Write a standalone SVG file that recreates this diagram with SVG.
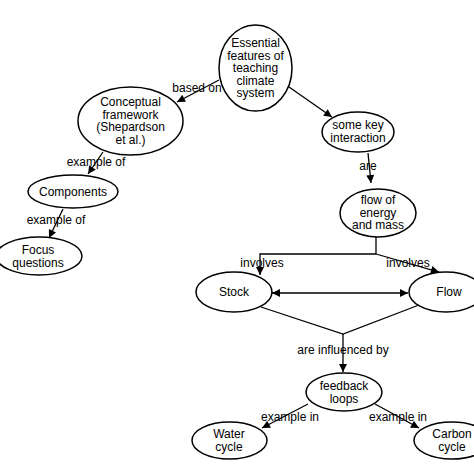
<svg xmlns="http://www.w3.org/2000/svg" width="474" height="474" viewBox="0 0 474 474">
<style>
.n ellipse{fill:#fff;stroke:#000;stroke-width:1.5}
text{font-family:"Liberation Sans",Arial,sans-serif;font-size:12px;fill:#000;text-anchor:middle}
.c line,.c polyline{stroke:#000;stroke-width:1.3;fill:none}
</style>
<defs>
<marker id="ah" viewBox="0 0 10 10" refX="10" refY="5" markerUnits="userSpaceOnUse" markerWidth="9" markerHeight="8" orient="auto-start-reverse">
<path d="M0,0 L10,5 L0,10 z" fill="#000"/>
</marker>
</defs>
<rect width="474" height="474" fill="#fff"/>
<g class="c" id="connectors">
<line x1="289" y1="87" x2="332" y2="117" marker-end="url(#ah)"/>
<line x1="219" y1="80" x2="177" y2="102" marker-end="url(#ah)"/>
<line x1="103" y1="152" x2="88" y2="174" marker-end="url(#ah)"/>
<line x1="63" y1="209" x2="49" y2="238" marker-end="url(#ah)"/>
<line x1="368" y1="153" x2="371" y2="183" marker-end="url(#ah)"/>
<line x1="376" y1="237" x2="376" y2="254"/>
<polyline points="376,254 260,254 260,275" marker-end="url(#ah)"/>
<line x1="376" y1="254" x2="439" y2="272" marker-end="url(#ah)"/>
<line x1="272" y1="293" x2="408" y2="293" marker-start="url(#ah)" marker-end="url(#ah)"/>
<polyline points="261,307 343,334 419,305"/>
<line x1="343" y1="334" x2="343" y2="372" marker-end="url(#ah)"/>
<line x1="308" y1="404" x2="262" y2="428" marker-end="url(#ah)"/>
<line x1="375" y1="404" x2="419" y2="428" marker-end="url(#ah)"/>
</g>
<g id="labels">
<text x="197" y="92">based on</text>
<text x="96" y="166">example of</text>
<text x="56" y="224">example of</text>
<text x="368" y="170">are</text>
<text x="262" y="267">involves</text>
<text x="408" y="267">involves</text>
<text x="343" y="354">are influenced by</text>
<text x="290" y="421">example in</text>
<text x="398" y="421">example in</text>
</g>
<g class="n" id="essential"><ellipse cx="255.5" cy="68" rx="36.5" ry="43"/>
<text x="255.5" y="47">Essential</text><text x="255.5" y="59.5">features of</text><text x="255.5" y="72">teaching</text><text x="255.5" y="84.5">climate</text><text x="255.5" y="97">system</text></g>
<g class="n" id="conceptual"><ellipse cx="130.5" cy="121" rx="52.5" ry="34"/>
<text x="130.5" y="106">Conceptual</text><text x="130.5" y="118.5">framework</text><text x="130.5" y="131">(Shepardson</text><text x="130.5" y="143.5">et al.)</text></g>
<g class="n" id="components"><ellipse cx="73" cy="191.5" rx="45" ry="16.5"/>
<text x="73" y="195.5">Components</text></g>
<g class="n" id="focus"><ellipse cx="39" cy="256" rx="43" ry="19"/>
<text x="38" y="254">Focus</text><text x="38" y="267">questions</text></g>
<g class="n" id="interaction"><ellipse cx="358" cy="132" rx="36" ry="20"/>
<text x="358" y="129">some key</text><text x="358" y="142">interaction</text></g>
<g class="n" id="flowenergy"><ellipse cx="378" cy="213" rx="38" ry="24"/>
<text x="378" y="204">flow of</text><text x="378" y="216.5">energy</text><text x="378" y="229">and mass</text></g>
<g class="n" id="stock"><ellipse cx="234" cy="292" rx="38" ry="20"/>
<text x="234" y="296">Stock</text></g>
<g class="n" id="flow"><ellipse cx="446" cy="292" rx="37" ry="20"/>
<text x="449" y="296">Flow</text></g>
<g class="n" id="feedback"><ellipse cx="344" cy="392" rx="38" ry="19"/>
<text x="344" y="389.5">feedback</text><text x="344" y="402.5">loops</text></g>
<g class="n" id="water"><ellipse cx="229.5" cy="440.5" rx="37.5" ry="18.5"/>
<text x="229" y="438">Water</text><text x="229" y="451">cycle</text></g>
<g class="n" id="carbon"><ellipse cx="452" cy="440.5" rx="38" ry="18.5"/>
<text x="452" y="438">Carbon</text><text x="452" y="451">cycle</text></g>
</svg>
